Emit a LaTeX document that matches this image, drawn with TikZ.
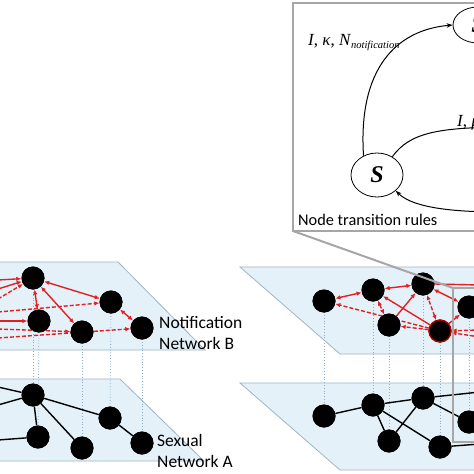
\documentclass[tikz,border=0pt]{standalone}
\usepackage{fontspec}
\setmainfont{Liberation Serif}
\newfontfamily\calib{Carlito}
\usetikzlibrary{arrows.meta,shapes.geometric}
\definecolor{nred}{RGB}{226,32,36}
\definecolor{dred}{RGB}{176,0,0}
\definecolor{planefill}{RGB}{228,241,249}
\definecolor{planeedge}{RGB}{160,180,196}
\definecolor{vdot}{RGB}{140,172,200}
\definecolor{boxgrey}{RGB}{166,166,166}
\begin{document}
\begin{tikzpicture}[x=1pt,y=-1pt,
  nd/.style={circle,fill=black,inner sep=0pt,minimum size=23pt},
  plane/.style={fill=planefill,draw=planeedge,line width=0.8pt},
  vlink/.style={draw=vdot,dotted,line width=0.8pt},
  rs/.style={draw=nred,line width=1.4pt,{Latex[length=5pt,width=4.5pt]}-{Latex[length=5pt,width=4.5pt]}},
  rsd/.style={rs,dash pattern=on 4pt off 2pt},
  ra/.style={draw=nred,line width=1.4pt,-{Latex[length=5pt,width=4.5pt]}},
  rad/.style={ra,dash pattern=on 4pt off 2pt},
  bl/.style={draw=black,line width=1.4pt},
  lbl/.style={font=\calib\fontsize{17.5}{21}\selectfont,inner sep=0pt,align=left},
  rlbl/.style={font=\calib\fontsize{16.3}{20}\selectfont,inner sep=0pt},
  st/.style={ellipse,draw=black,line width=0.8pt,fill=white,inner sep=0pt},
  tarr/.style={draw=black,line width=1pt,-{Stealth[length=6pt,width=4.5pt]}},
  gbox/.style={draw=boxgrey,line width=2pt}]
\useasboundingbox (0,0) rectangle (474,474);
\clip (0,0) rectangle (474,474);

% planes
\path[plane] (-5,262) -- (118,262) -- (205,350) -- (-5,350) -- cycle;
\path[plane] (-5,379) -- (120,379) -- (204,461) -- (-5,461) -- cycle;
\path[plane] (240,267) -- (480,267) -- (480,354) -- (340,354) -- cycle;
\path[plane] (240,383) -- (480,383) -- (480,470) -- (340,470) -- cycle;

% node coordinates
\coordinate (pn1) at (33,278);
\coordinate (pn2) at (39,321);
\coordinate (pn3) at (82,332);
\coordinate (pn4) at (111,302);
\coordinate (pn5) at (142,328);
\coordinate (ps1) at (33,395);
\coordinate (ps2) at (38,437);
\coordinate (ps3) at (82,448);
\coordinate (ps4) at (110,418);
\coordinate (ps5) at (142,443);
\coordinate (pr1) at (324,301);
\coordinate (pr2) at (373,290);
\coordinate (pr3) at (423,284);
\coordinate (pr4) at (389,325);
\coordinate (pr5) at (440,331);
\coordinate (pr6) at (469,307);
\coordinate (pq1) at (324,416);
\coordinate (pq2) at (373,405);
\coordinate (pq3) at (423,398);
\coordinate (pq4) at (389,441);
\coordinate (pq5) at (440,447);
\coordinate (pq6) at (469,422);

% vertical dotted links
\foreach \a/\b in {pn1/ps1,pn2/ps2,pn3/ps3,pn4/ps4,pn5/ps5,pr1/pq1,pr2/pq2,pr3/pq3,pr4/pq4,pr5/pq5,pr6/pq6}
  \draw[vlink] (\a) -- (\b);

% nodes
\node[nd] (n1) at (pn1) {};
\node[nd] (n2) at (pn2) {};
\node[nd] (n3) at (pn3) {};
\node[nd] (n4) at (pn4) {};
\node[nd] (n5) at (pn5) {};
\node[nd] (s1) at (ps1) {};
\node[nd] (s2) at (ps2) {};
\node[nd] (s3) at (ps3) {};
\node[nd] (s4) at (ps4) {};
\node[nd] (s5) at (ps5) {};
\node[nd] (r1) at (pr1) {};
\node[nd] (r2) at (pr2) {};
\node[nd] (r3) at (pr3) {};
\node[nd] (r4) at (pr4) {};
\node[nd,draw=dred,line width=1.2pt,minimum size=22pt] (r5) at (pr5) {};
\node[nd] (r6) at (pr6) {};
\node[nd] (q1) at (pq1) {};
\node[nd] (q2) at (pq2) {};
\node[nd] (q3) at (pq3) {};
\node[nd] (q4) at (pq4) {};
\node[nd] (q5) at (pq5) {};
\node[nd] (q6) at (pq6) {};

% external end points
\coordinate (la1) at (-2,280);
\coordinate (la2) at (-2,289);
\coordinate (la3) at (-2,299);
\coordinate (la4) at (-2,312);
\coordinate (la5) at (-2,321);
\coordinate (la6) at (-2,329);
\coordinate (la7) at (-2,338);
\coordinate (lb1) at (-2,387);
\coordinate (lb2) at (-2,405);
\coordinate (lb3) at (-2,440);
\coordinate (ra1) at (480,285);
\coordinate (ra2) at (480,330);
\coordinate (ra3) at (480,337);
\coordinate (rb1) at (480,392);
\coordinate (rb2) at (480,444);

% left notification network
\draw[rs] (n1) -- (n2);
\draw[rs] (n1) -- (n3);
\draw[rs] (n1) -- (n4);
\draw[rs] (n4) -- (n5);
\draw[ra] (la1) -- (n1);
\draw[ra] (la2) -- (n1);
\draw[rad] (la3) -- (n1);
\draw[rad] (la4) -- (n4);
\draw[ra] (la5) -- (n2);
\draw[rad] (la6) -- (n3);
\draw[rad] (la7) -- (n5);

% left sexual network
\draw[bl] (s1) -- (s2);
\draw[bl] (s1) -- (s3);
\draw[bl] (s1) -- (s4);
\draw[bl] (s4) -- (s5);
\draw[bl] (lb1) -- (s1);
\draw[bl] (lb2) -- (s1);
\draw[bl] (lb3) -- (s2);

% right notification network
\draw[rs] (r1) -- (r2);
\draw[rs] (r2) -- (r3);
\draw[rsd] (r2) -- (r4);
\draw[ra] (r5) -- (r2);
\draw[ra] (r4) -- (r3);
\draw[rsd] (r5) -- (r3);
\draw[rad] (r5) -- (r4);
\draw[rad] (r5) -- (r1);
\draw[rs] (r3) -- (r6);
\draw[rad] (r5) -- (r6);
\draw[draw=nred,line width=1.4pt] (r3.east) -- (ra1);
\draw[rad] (ra2) -- (r5);
\draw[rad] (ra3) -- (r5);

% right sexual network
\draw[bl] (q1) -- (q2);
\draw[bl] (q2) -- (q3);
\draw[bl] (q2) -- (q4);
\draw[bl] (q2) -- (q5);
\draw[bl] (q3) -- (q4);
\draw[bl] (q3) -- (q6);
\draw[bl] (q3) -- (rb1);
\draw[bl] (q5) -- (rb2);

% redraw nodes on top of edges
\foreach \n in {n1,n2,n3,n4,n5,s1,s2,s3,s4,s5,r1,r2,r3,r4,r6,q1,q2,q3,q4,q5,q6}
  \fill[black] (\n.center) circle (11.5pt);
\draw[fill=black,draw=dred,line width=1.2pt] (r5.center) circle (11pt);

% labels
\node[lbl,anchor=north west] (labB) at (159,316) {Notification\\Network B};
\node[lbl,anchor=north west] (labA) at (157,434) {Sexual\\Network A};

% zoom rectangle and connector
\coordinate (recNW) at (453,288);
\coordinate (recSE) at (490,442);
\draw[gbox] (recNW) rectangle (recSE);
\coordinate (boxSW) at (293,231);
\coordinate (boxNE) at (490,3);
\draw[gbox] (boxSW) -- (recNW);

% inset
\draw[gbox,fill=white] (boxSW) rectangle (boxNE);
\node[st,minimum width=52pt,minimum height=44pt] (sA) at (377,175) {\fontsize{24}{24}\selectfont\textbf{\textit{S}}};
\node[st,minimum width=50pt,minimum height=36pt] (sT) at (478,25) {\fontsize{24}{24}\selectfont\textbf{\textit{S}}};
\draw[tarr] (sA.125) .. controls (358,70) and (395,30) .. (sT.west);
\coordinate (outU) at (500,127);
\coordinate (outL) at (500,212);
\draw[draw=black,line width=1pt] (sA.50) .. controls (410,132) and (440,128) .. (outU);
\draw[tarr] (outL) .. controls (440,212) and (410,205) .. (sA.-40);
\node[anchor=base west,inner sep=0pt,font=\fontsize{17}{17}\selectfont] (lab1) at (308,45) {\textit{I}, \textit{κ}, \textit{N}\raisebox{-3.5pt}{\fontsize{10.5}{10.5}\selectfont\textit{notification}}};
\node[anchor=base west,inner sep=0pt,font=\fontsize{17}{17}\selectfont] (lab2) at (457,126) {\textit{I}, \textit{μ}};
\node[rlbl,anchor=base west] (labR) at (298,225) {Node transition rules};
\end{tikzpicture}
\end{document}
